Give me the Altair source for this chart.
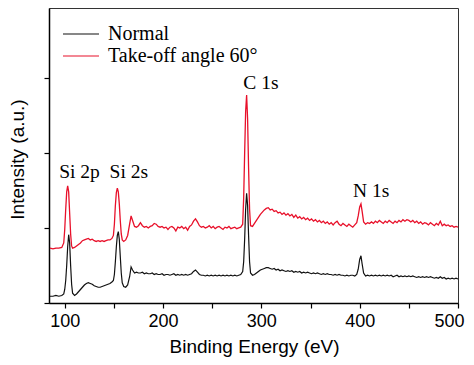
import altair as alt
import pandas as pd

# Binding energy grid (eV)
energy = [85, 88, 91, 94, 97, 99, 100, 101, 102, 103, 104, 105, 106, 107, 108, 110, 112, 114, 116, 118,
          120, 122, 124, 126, 128, 130, 132, 134, 136, 138, 140, 142, 144, 146, 148, 149.5, 150.5, 151.5,
          152.5, 153.5, 154.5, 155.5, 156.5, 157.5, 158.5, 160, 162, 164, 166, 167.5, 169, 171, 173, 175,
          177, 179, 181, 183, 185, 187, 189, 191, 193, 195, 197, 199, 201, 203, 205, 207, 209, 211, 213,
          215, 217, 219, 221, 223, 225, 227, 229, 231, 233, 235, 237, 239, 241, 243, 245, 247, 249, 251,
          253, 255, 257, 259, 261, 263, 265, 267, 269, 271, 273, 275, 277, 279, 281, 282, 283, 284, 285,
          286, 287, 288, 289, 291, 293, 295, 297, 299, 301, 303, 305, 307, 309, 311, 313, 315, 317, 319,
          321, 323, 325, 327, 329, 331, 333, 335, 337, 339, 341, 343, 345, 347, 349, 351, 353, 355, 357,
          359, 361, 363, 365, 367, 369, 371, 373, 375, 377, 379, 381, 383, 385, 387, 389, 391, 393, 395,
          397, 398.5, 400, 401.3, 402.5, 404, 406, 408, 410, 412, 414, 416, 418, 420, 422, 424, 426, 428,
          430, 432, 434, 436, 438, 440, 442, 444, 446, 448, 450, 452, 454, 456, 458, 460, 462, 464, 466,
          468, 470, 472, 474, 476, 478, 480, 482, 484, 486, 488, 490, 492, 494, 496, 498, 500]

normal = [0.09, 0.09, 0.10, 0.09, 0.10, 0.12, 0.18, 0.30, 0.50, 0.75, 0.91, 0.80, 0.50, 0.25, 0.13, 0.10,
          0.12, 0.15, 0.18, 0.21, 0.24, 0.26, 0.27, 0.26, 0.25, 0.23, 0.22, 0.21, 0.21, 0.22, 0.23, 0.24,
          0.25, 0.26, 0.28, 0.30, 0.38, 0.55, 0.75, 0.90, 0.95, 0.85, 0.62, 0.40, 0.27, 0.22, 0.21, 0.24,
          0.35, 0.48, 0.44, 0.40, 0.41, 0.40, 0.40, 0.41, 0.39, 0.40, 0.39, 0.39, 0.40, 0.38, 0.39, 0.38,
          0.38, 0.39, 0.37, 0.38, 0.38, 0.37, 0.38, 0.39, 0.37, 0.38, 0.37, 0.38, 0.37, 0.38, 0.37, 0.38,
          0.39, 0.42, 0.44, 0.41, 0.38, 0.37, 0.37, 0.36, 0.37, 0.36, 0.37, 0.36, 0.37, 0.36, 0.37, 0.36,
          0.37, 0.36, 0.37, 0.36, 0.37, 0.36, 0.37, 0.36, 0.37, 0.38, 0.42, 0.55, 0.85, 1.25, 1.46, 1.30,
          0.90, 0.55, 0.40, 0.37, 0.38, 0.40, 0.42, 0.44, 0.45, 0.46, 0.47, 0.47, 0.46, 0.45, 0.46, 0.44,
          0.45, 0.43, 0.44, 0.43, 0.42, 0.43, 0.42, 0.43, 0.41, 0.42, 0.41, 0.42, 0.40, 0.41, 0.40, 0.41,
          0.40, 0.39, 0.40, 0.39, 0.40, 0.39, 0.38, 0.39, 0.38, 0.39, 0.38, 0.38, 0.37, 0.38, 0.37, 0.38,
          0.37, 0.37, 0.36, 0.37, 0.36, 0.37, 0.37, 0.36, 0.38, 0.45, 0.58, 0.63, 0.52, 0.40, 0.36, 0.37,
          0.36, 0.37, 0.36, 0.37, 0.36, 0.37, 0.36, 0.37, 0.36, 0.37, 0.36, 0.37, 0.35, 0.36, 0.37, 0.35,
          0.36, 0.35, 0.36, 0.35, 0.36, 0.35, 0.36, 0.35, 0.34, 0.35, 0.34, 0.35, 0.34, 0.35, 0.34, 0.35,
          0.34, 0.33, 0.34, 0.33, 0.35, 0.33, 0.34, 0.32, 0.33, 0.32, 0.33, 0.32, 0.33, 0.32]

angle60 = [0.73, 0.72, 0.73, 0.73, 0.74, 0.80, 0.98, 1.25, 1.48, 1.56, 1.48, 1.20, 0.92, 0.76, 0.73, 0.74,
           0.76, 0.78, 0.80, 0.83, 0.84, 0.85, 0.86, 0.84, 0.85, 0.83, 0.82, 0.83, 0.82, 0.83, 0.82, 0.83,
           0.84, 0.84, 0.86, 0.90, 1.05, 1.30, 1.47, 1.53, 1.48, 1.32, 1.10, 0.92, 0.84, 0.82, 0.84, 0.90,
           1.05, 1.16, 1.10, 1.02, 1.01, 1.03, 1.07, 1.03, 1.01, 1.02, 1.00, 1.02, 1.03, 1.06, 1.05, 1.02,
           1.01, 1.02, 1.00, 1.01, 0.98, 1.01, 1.02, 1.00, 0.96, 1.01, 1.00, 1.02, 0.99, 1.01, 0.97, 1.02,
           1.04, 1.09, 1.12, 1.08, 1.03, 1.01, 1.02, 1.00, 1.01, 1.03, 1.00, 1.02, 0.99, 1.01, 1.02, 1.00,
           0.98, 1.01, 1.00, 1.02, 0.99, 1.00, 1.01, 0.99, 1.00, 1.01, 1.05, 1.40, 2.00, 2.55, 2.77, 2.45,
           1.80, 1.25, 1.03, 1.02, 1.06, 1.10, 1.14, 1.18, 1.21, 1.24, 1.26, 1.27, 1.24, 1.25, 1.22, 1.23,
           1.20, 1.21, 1.18, 1.20, 1.17, 1.19, 1.16, 1.18, 1.14, 1.17, 1.13, 1.15, 1.12, 1.14, 1.11, 1.13,
           1.10, 1.12, 1.09, 1.11, 1.08, 1.10, 1.07, 1.09, 1.06, 1.08, 1.05, 1.07, 1.04, 1.07, 1.09, 1.05,
           1.03, 1.06, 1.04, 1.02, 1.05, 1.03, 1.01, 1.04, 1.07, 1.16, 1.28, 1.32, 1.22, 1.08, 1.05, 1.07,
           1.06, 1.08, 1.06, 1.09, 1.07, 1.10, 1.08, 1.06, 1.09, 1.07, 1.10, 1.08, 1.06, 1.09, 1.07, 1.10,
           1.08, 1.11, 1.09, 1.11, 1.10, 1.08, 1.10, 1.07, 1.09, 1.06, 1.08, 1.05, 1.07, 1.06, 1.04, 1.07,
           1.05, 1.03, 1.06, 1.04, 1.09, 1.03, 1.05, 1.03, 1.04, 1.02, 1.03, 1.01, 1.02, 1.01]

series_names = ["Normal", "Take-off angle 60°"]
series_colors = ["#111111", "#e8102a"]

peak_labels = ["Si 2p", "Si 2s", "C 1s", "N 1s"]
peak_label_x = [94.4, 145.6, 281.6, 393.2]
peak_label_y = [1.666, 1.666, 2.85, 1.41]

x_ticks = [100, 150, 200, 250, 300, 350, 400, 450, 500]
y_ticks = [0, 1, 2, 3]

df_normal = pd.DataFrame({"energy": energy, "intensity": normal})
df_angle = pd.DataFrame({"energy": energy, "intensity": angle60})
df_labels = pd.DataFrame({"label": peak_labels, "x": peak_label_x, "y": peak_label_y})

xscale = alt.Scale(domain=[84, 500], nice=False, zero=False)
yscale = alt.Scale(domain=[0, 3.93], nice=False, zero=False)

xaxis = alt.Axis(values=x_ticks, labelExpr="datum.value % 100 == 0 ? datum.label : ''",
                 labelFlush=True, labelFlushOffset=6, labelOverlap=False,
                 title="Binding Energy (eV)", titleY=49, titleX=205, titleBaseline="alphabetic")
yaxis = alt.Axis(values=y_ticks, labels=False, title="Intensity (a.u.)",
                 titleX=-26, titleY=151, titleAngle=270, titleBaseline="alphabetic", titleAlign="center")

red_line = alt.Chart(df_angle).mark_line(color=series_colors[1], strokeWidth=1.3).encode(
    x=alt.X("energy:Q", scale=xscale, axis=xaxis),
    y=alt.Y("intensity:Q", scale=yscale, axis=yaxis),
)
black_line = alt.Chart(df_normal).mark_line(color=series_colors[0], strokeWidth=1.2).encode(
    x=alt.X("energy:Q", scale=xscale),
    y=alt.Y("intensity:Q", scale=yscale),
)

labels = alt.Chart(df_labels).mark_text(font="Liberation Serif", fontSize=19.5, align="left",
                                         baseline="alphabetic", color="black").encode(
    x=alt.X("x:Q", scale=xscale), y=alt.Y("y:Q", scale=yscale), text="label:N")

legend_layers = []
for i, (name, col) in enumerate(zip(series_names, series_colors)):
    d = pd.DataFrame({"label": [name]})
    legend_layers.append(alt.Chart(d).mark_rule(color=col, strokeWidth=1.2).encode(
        x=alt.value(14), x2=alt.value(50), y=alt.value(26 + 22 * i)))
    legend_layers.append(alt.Chart(d).mark_text(font="Liberation Serif", fontSize=20, align="left",
                                                baseline="middle", color="black").encode(
        x=alt.value(59), y=alt.value(26 + 22 * i), text="label:N"))

chart = alt.layer(red_line, black_line, labels, *legend_layers).properties(
    width=409, height=295,
    autosize=alt.AutoSizeParams(type="none"),
    padding={"left": 41, "top": 0, "right": 8, "bottom": 54},
).configure_view(stroke="#333333", strokeWidth=1).configure_axis(
    grid=False, domainColor="black", domainWidth=1.5, tickColor="black", tickSize=5, tickWidth=1.2,
    labelFont="Liberation Sans", labelFontSize=18, labelColor="black", labelPadding=4,
    titleFont="Liberation Sans", titleFontSize=19, titleFontWeight="normal", titleColor="black",
)

chart.save("out.html", embed_options={"renderer": "svg", "actions": False})
